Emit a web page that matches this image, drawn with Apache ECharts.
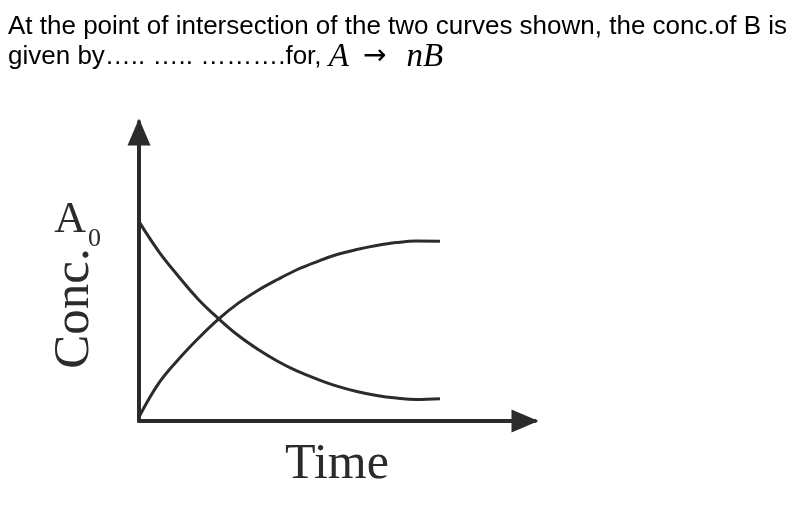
<!DOCTYPE html>
<html>
<head>
<meta charset="utf-8">
<script src="https://cdn.jsdelivr.net/npm/echarts@6/dist/echarts.min.js"></script>
<style>html,body{margin:0;padding:0;background:#fff}#c{width:800px;height:531px}</style>
</head>
<body>
<div id="c"></div>
<script>
// data (time in arbitrary units, concentration in units of A0)
const timeValues = [0, 0.5, 1.0, 1.5, 2.0, 2.5, 3.0, 3.5, 4.0, 4.5, 5.0, 5.5, 6.0, 6.5, 7.0, 7.6];
const concA = [1.0, 0.85, 0.725, 0.61, 0.515, 0.43, 0.36, 0.30, 0.25, 0.21, 0.175, 0.148, 0.128, 0.115, 0.108, 0.112];
const concB = [0.02, 0.19, 0.31, 0.415, 0.51, 0.59, 0.655, 0.71, 0.76, 0.80, 0.835, 0.86, 0.88, 0.895, 0.903, 0.902];
const yTickLabel = 1; // A0 marker
const questionLine1 = 'At the point of intersection of the two curves shown, the conc.of B is';
const questionLine2 = 'given by….. ….. ……….for, ';

const chart = echarts.init(document.getElementById('c'));
const ink = '#2b2b2b';
chart.setOption({
  animation: false,
  backgroundColor: '#fff',
  title: {
    left: 8, top: 12, padding: 0,
    text: questionLine1 + '\n' + questionLine2 + '{m|A}{r|→}{m|nB}',
    textStyle: {
      fontFamily: 'Liberation Sans', fontSize: 26, fontWeight: 'normal', color: '#000', lineHeight: 30,
      rich: {
        m: {fontFamily: 'Liberation Serif', fontStyle: 'italic', fontSize: 33, color: '#000', lineHeight: 30},
        r: {fontFamily: 'DejaVu Sans', fontSize: 28, color: '#000', lineHeight: 30, padding: [0, 20, 0, 14]}
      }
    }
  },
  grid: {left: 139, top: 122, width: 396, bottom: 110, containLabel: false},
  xAxis: {
    type: 'value', min: 0, max: 10,
    name: 'Time', nameLocation: 'middle', nameGap: 19, nameMoveOverlap: false,
    nameTextStyle: {fontFamily: 'Liberation Serif', fontSize: 50, color: ink, verticalAlign: 'top'},
    axisLine: {show: true, symbol: ['none', 'triangle'], symbolSize: [23, 27], symbolOffset: [0, -10],
               lineStyle: {color: ink, width: 4}},
    axisTick: {show: false}, axisLabel: {show: false}, splitLine: {show: false}
  },
  yAxis: {
    type: 'value', min: 0, max: 1.5, interval: 0.5,
    name: 'Conc.', nameLocation: 'middle', nameGap: 39, nameRotate: 90, nameMoveOverlap: false,
    nameTextStyle: {fontFamily: 'Liberation Serif', fontSize: 51, color: ink, padding: [0, 74, 0, 0]},
    axisLine: {show: true, symbol: ['none', 'triangle'], symbolSize: [23, 27], symbolOffset: [0, -10],
               lineStyle: {color: ink, width: 4}},
    axisTick: {show: false}, splitLine: {show: false},
    axisLabel: {
      show: true, margin: 38, showMaxLabel: false,
      formatter: v => (v === yTickLabel ? '{a|A}{s|0}' : ''),
      rich: {
        a: {fontFamily: 'Liberation Serif', fontSize: 44, color: ink, lineHeight: 46, verticalAlign: 'top'},
        s: {fontFamily: 'Liberation Serif', fontSize: 26, color: ink, lineHeight: 26, verticalAlign: 'top', padding: [28, 0, 0, 2]}
      }
    }
  },
  series: [
    {type: 'line', name: 'A', data: timeValues.map((t, i) => [t, concA[i]]), smooth: 0.4, symbol: 'none',
     lineStyle: {color: ink, width: 3}},
    {type: 'line', name: 'B', data: timeValues.map((t, i) => [t, concB[i]]), smooth: 0.4, symbol: 'none',
     lineStyle: {color: ink, width: 3}}
  ]
});
</script>
</body>
</html>
